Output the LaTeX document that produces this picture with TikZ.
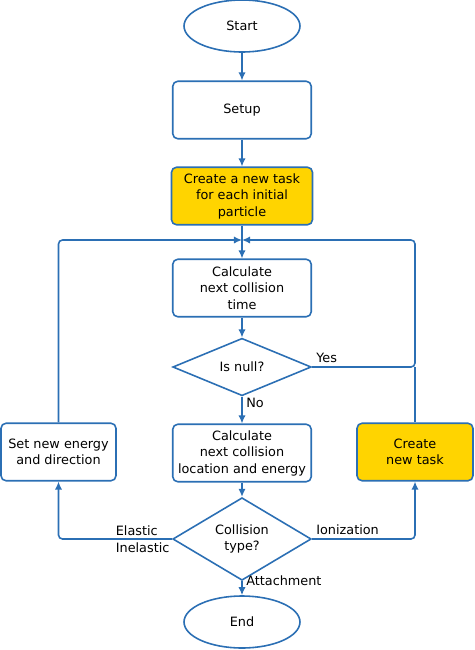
\documentclass[tikz,border=0pt]{standalone}
\usepackage{fontspec}
\setmainfont{DejaVu Sans}
\usetikzlibrary{arrows.meta,shapes.geometric}
\definecolor{flowblue}{HTML}{2B6FB4}
\definecolor{taskyellow}{HTML}{FFD400}

\begin{document}
\begin{tikzpicture}[x=0.02cm,y=-0.02cm,
  every node/.style={font=\fontsize{7.3}{9.4}\selectfont, align=center},
  flowline/.style={draw=flowblue, line width=0.9pt},
  arr/.style={flowline, -{Latex[length=4.6pt,width=4.2pt]}},
  termbox/.style={ellipse, draw=flowblue, line width=0.9pt, fill=white, minimum width=2.32cm, minimum height=1.04cm},
  procbox/.style={rectangle, rounded corners=0.1cm, draw=flowblue, line width=0.9pt, fill=white, minimum width=2.77cm, minimum height=1.15cm, inner sep=1pt},
  taskbox/.style={procbox, fill=taskyellow},
  decbox/.style={diamond, draw=flowblue, line width=0.9pt, fill=white, minimum width=2.77cm, minimum height=1.15cm, inner sep=0pt}]
\useasboundingbox (0,0) rectangle (474,650);
\node[termbox] (start) at (242,26) {Start};
\node[procbox] (setup) at (242,110) {Setup};
\node[taskbox, minimum width=2.82cm] (newtasks) at (242,196) {Create a new task\\for each initial\\particle};
\coordinate (join) at (242,240);
\coordinate (ne) at (415,240);
\node[procbox] (calctime) at (242,288) {Calculate\\next collision\\time};
\node[decbox] (isnull) at (242,367) {Is null?};
\node[procbox] (calcloc) at (242,453) {Calculate\\next collision\\location and energy};
\node[decbox] (collision) at (242,539) {Collision\\type?};
\node[termbox] (end) at (242,622) {End};
\node[procbox, minimum width=2.3cm] (setenergy) at (58.5,452) {Set new energy\\and direction};
\node[taskbox, minimum width=2.32cm] (newtask) at (415,452) {Create\\new task};
% main column
\draw[arr] (start) -- (setup);
\draw[arr] (setup) -- (newtasks);
\draw[arr] (newtasks) -- (calctime);
\draw[arr] (calctime) -- (isnull);
\draw[arr] (isnull) -- node[right, inner sep=2pt, pos=0.22] {No} (calcloc);
\draw[arr] (calcloc) -- (collision);
\draw[arr] (collision) -- node[right, inner sep=2pt, pos=0.22, yshift=2pt] {Attachment} (end);
% loops back to the top
\draw[arr, rounded corners=0.08cm] (setenergy.north) |- (join);
\draw[arr, rounded corners=0.08cm] (isnull.east) node[above right, inner sep=2pt] {Yes} -| (ne) -- (join);
\draw[flowline] (newtask.north) -- (isnull.east -| newtask.north);
% collision outcomes
\draw[arr, rounded corners=0.08cm] (collision.west) node[left, align=left, inner sep=1pt] {Elastic\\Inelastic} -| (setenergy.south);
\draw[arr, rounded corners=0.08cm] (collision.east) node[above right, inner sep=2pt] {Ionization} -| (newtask.south);
\end{tikzpicture}
\end{document}
